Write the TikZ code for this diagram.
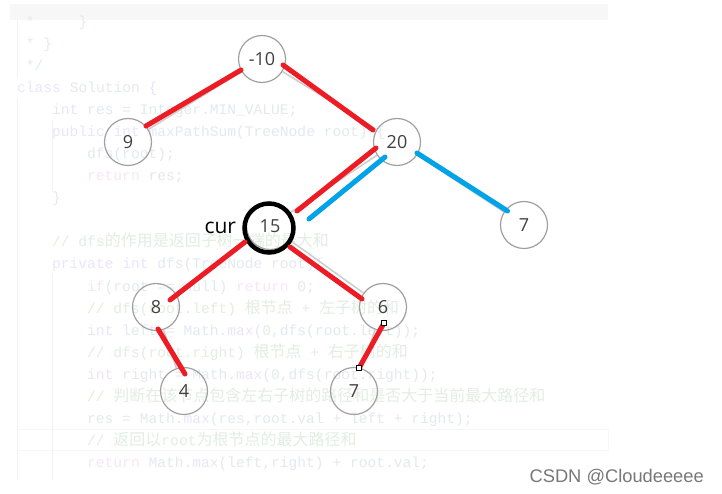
\documentclass[tikz,border=0pt]{standalone}
\usepackage{fontspec}
\usepackage{tikz}
\usetikzlibrary{positioning,calc}
\setmainfont{Open Sans}
\setmonofont{Liberation Mono}
\newfontfamily\cjkfont{Noto Sans CJK SC}
\newfontfamily\wmfont{Liberation Sans}
\definecolor{codetx}{RGB}{230,232,241}
\definecolor{codekw}{RGB}{236,229,249}
\definecolor{coderet}{RGB}{247,230,247}
\definecolor{codecm}{RGB}{226,238,226}
\definecolor{guidegray}{RGB}{243,243,243}
\definecolor{nodegray}{RGB}{160,160,160}
\definecolor{nodetext}{RGB}{64,64,64}
\definecolor{edgegray}{RGB}{205,205,205}
\definecolor{markred}{RGB}{237,28,36}
\definecolor{markblue}{RGB}{0,162,232}
\definecolor{wmgray}{RGB}{120,120,120}
\newcommand{\zh}[1]{{\cjkfont\fontsize{16}{16}\selectfont #1}}
\newcommand{\kw}[1]{\textcolor{codekw}{#1}}
\newcommand{\rt}[1]{\textcolor{coderet}{#1}}
\newcommand{\cm}[1]{\textcolor{codecm}{#1}}

\begin{document}
\begin{tikzpicture}[x=1pt, y=-1pt,
    codeline/.style={anchor=base west, inner sep=0pt, text=codetx, font=\ttfamily\fontsize{14.6}{14.6}\selectfont},
    treenode/.style={circle, draw=nodegray, line width=1.2pt, minimum size=47pt, inner sep=0pt, text=nodetext, font=\fontsize{18}{18}\selectfont},
    treeedge/.style={draw=edgegray, line width=1.5pt},
    redline/.style={draw=markred, line width=5pt, line cap=round},
    blueline/.style={draw=markblue, line width=5pt, line cap=round},
    handle/.style={draw=black, fill=white, line width=0.8pt, minimum size=5pt, inner sep=0pt}]
  \fill[white] (0,0) rectangle (722,494);
  \useasboundingbox (0,0) rectangle (722,494);
  % editor background
  \fill[black!3] (10,4) rectangle (608,20);
  \draw[black!3] (17,429) rectangle (608,450);
  \draw[guidegray] (17,20) -- (17,78) (17,98) -- (17,480) (52,120) -- (52,190) (52,273) -- (52,480);
  \node[codeline] (code1) at (17,27) {\cm{\ *\ \ \ \ \ \}}};
  \node[codeline] (code2) at (17,49) {\cm{\ *\ \}}};
  \node[codeline] (code3) at (17,71) {\cm{\ */}};
  \node[codeline] (code4) at (17,93) {\kw{class} Solution \{};
  \node[codeline] (code5) at (52,115) {\kw{int} res = Integer.MIN\_VALUE;};
  \node[codeline] (code6) at (52,137) {\kw{public int} maxPathSum(TreeNode root) \{};
  \node[codeline] (code7) at (87,159) {dfs(root);};
  \node[codeline] (code8) at (87,181) {\rt{return} res;};
  \node[codeline] (code9) at (52,203) {\}};
  \node[codeline] (code10) at (52,247) {\cm{// dfs\zh{的作用是返回子树一端的最大和}}};
  \node[codeline] (code11) at (52,269) {\kw{private int} dfs(TreeNode root)\{};
  \node[codeline] (code12) at (87,291) {\rt{if}(root == null) \rt{return} \cm{0};};
  \node[codeline] (code13) at (87,313) {\cm{// dfs(root.left) \zh{根节点} + \zh{左子树的和}}};
  \node[codeline] (code14) at (87,335) {\kw{int} left = Math.\kw{max}(\cm{0},dfs(root.left));};
  \node[codeline] (code15) at (87,357) {\cm{// dfs(root.right) \zh{根节点} + \zh{右子树的和}}};
  \node[codeline] (code16) at (87,379) {\kw{int} right = Math.\kw{max}(\cm{0},dfs(root.right));};
  \node[codeline] (code17) at (87,401) {\cm{// \zh{判断在该节点包含左右子树的路径和是否大于当前最大路径和}}};
  \node[codeline] (code18) at (87,423) {res = Math.\kw{max}(res,root.val + left + right);};
  \node[codeline] (code19) at (87,445) {\cm{// \zh{返回以}root\zh{为根节点的最大路径和}}};
  \node[codeline] (code20) at (87,467) {\rt{return} Math.\kw{max}(left,right) + root.val;};
  % tree
  \node[treenode] (m10) at (262,59) {-10};
  \node[treenode] (n9) at (128,142) {9};
  \node[treenode] (n20) at (397,142) {20};
  \node[treenode] (n15) at (270,226) {15};
  \node[treenode] (n7a) at (524,225) {7};
  \node[treenode] (n8) at (156,307) {8};
  \node[treenode] (n6) at (383,307) {6};
  \node[treenode] (n4) at (184,391) {4};
  \node[treenode] (n7b) at (354,391) {7};
  \draw[treeedge] (m10) -- (n9);
  \draw[treeedge] (m10) -- (n20);
  \draw[treeedge] (n20) -- (n15);
  \draw[treeedge] (n20) -- (n7a);
  \draw[treeedge] (n15) -- (n8);
  \draw[treeedge] (n15) -- (n6);
  \draw[treeedge] (n8) -- (n4);
  \draw[treeedge] (n6) -- (n7b);
  % current node
  \node[circle, draw=black, line width=4.5pt, minimum size=49pt, inner sep=0pt] (ring) at ($(n15)+(-1,2)$) {};
  \node[left=6pt of ring, inner sep=0pt, font=\fontsize{21}{21}\selectfont] (cur) {cur};
  % marked paths
  \draw[redline] ($(m10)+(-21,11)$) -- ($(n9)+(18,-16)$);
  \draw[redline] ($(m10)+(21,6)$) -- ($(n20)+(-24,-12)$);
  \draw[redline] ($(n20)+(-21,6)$) -- ($(n15)+(27,-15)$);
  \draw[blueline] ($(n20)+(-12,15)$) -- ($(n15)+(39,-7)$);
  \draw[blueline] ($(n20)+(20,11)$) -- ($(n7a)+(-16.5,-14)$);
  \draw[redline] ($(n15)+(-25,16)$) -- ($(n8)+(14,-7)$);
  \draw[redline] ($(n15)+(20,21)$) -- ($(n6)+(-21,-8)$);
  \draw[redline] ($(n8)+(2,22)$) -- ($(n4)+(1,-17)$);
  \coordinate (h1) at ($(n6)+(1,16)$);
  \coordinate (h2) at ($(n7b)+(5,-23)$);
  \draw[redline, line cap=butt] (h1) -- (h2);
  \node[handle] (h1box) at (h1) {};
  \node[handle] (h2box) at (h2) {};
  \node[anchor=east, inner sep=0pt, text=wmgray, font=\wmfont\fontsize{18.3}{18.3}\selectfont] (mark) at (704,477) {CSDN @Cloudeeeee};
\end{tikzpicture}
\end{document}
